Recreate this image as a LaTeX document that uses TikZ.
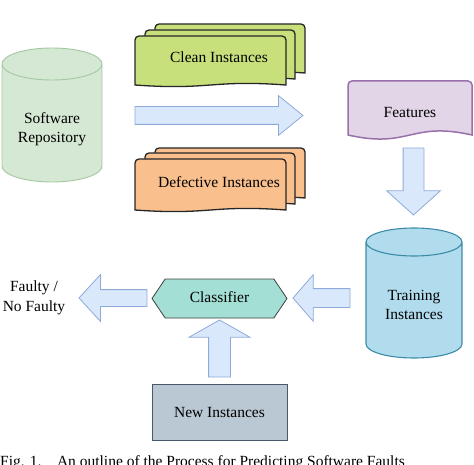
\documentclass[tikz,border=0pt]{standalone}
\usepackage{fontspec}
\setmainfont{Liberation Serif}
\usepackage{tikz}
\usetikzlibrary{positioning,shapes.geometric,shapes.arrows,shapes.symbols,calc}

\definecolor{repofill}{HTML}{D5E8D4}
\definecolor{repoline}{HTML}{A3C8A1}
\definecolor{cleanfill}{HTML}{C8E07C}
\definecolor{deffill}{HTML}{F9C08D}
\definecolor{featfill}{HTML}{E1D5E7}
\definecolor{featline}{HTML}{9A70AA}
\definecolor{trainfill}{HTML}{B1DCEE}
\definecolor{trainline}{HTML}{3B8BA7}
\definecolor{clsfill}{HTML}{A3DFD5}
\definecolor{newfill}{HTML}{BAC8D3}
\definecolor{newline}{HTML}{46586A}
\definecolor{arrfill}{HTML}{DAE8FC}
\definecolor{arrline}{HTML}{8EAAD8}

% document shape: x1 y1 x2 y2 wave
\newcommand\docpath[5]{(#1,#4) [rounded corners=4pt] -- (#1,#2) -- (#3,#2) [sharp corners] -- (#3,#4)
  .. controls ($(#1,#4)!0.5!(#3,#4)+(0,-#5)$) and ($(#1,#4)!0.5!(#3,#4)+(0,#5)$) .. cycle}
% cylinder: cx ytop ybottom rx ry
\newcommand\cylpath[5]{({#1-#4},#2) -- ({#1-#4},#3)
  arc[start angle=180, end angle=360, x radius=#4pt, y radius=#5pt] -- ({#1+#4},#2)
  arc[start angle=0, end angle=180, x radius=#4pt, y radius=#5pt] -- cycle
  (#1,#2) ellipse[x radius=#4pt, y radius=#5pt]}

\tikzset{
  label/.style = {font=\fontsize{15.5}{19.5}\selectfont, align=center, inner sep=0pt},
  doc/.style = {draw=black!85, line width=1.3pt},
  bigarrow/.style = {single arrow, draw=arrline, fill=arrfill, line width=0.8pt,
    inner sep=0pt, outer sep=0pt},
}

\begin{document}
\begin{tikzpicture}[x=1pt,y=-1pt]
  \useasboundingbox (0,0) rectangle (474,465);

  % data stores
  \draw[draw=repoline, fill=repofill, line width=0.9pt] \cylpath{52}{64}{166}{50}{16};
  \node[label] (repo) at (52,129) {Software\\Repository};

  \draw[draw=trainline, fill=trainfill, line width=1.1pt] \cylpath{414}{242}{344}{48}{14};
  \node[label] (train) at (414,305) {Training\\Instances};

  % stacked documents
  \draw[doc, fill=cleanfill] \docpath{155}{24}{305}{73}{5.5};
  \draw[doc, fill=cleanfill] \docpath{145}{30}{295}{79}{5.5};
  \draw[doc, fill=cleanfill] \docpath{135}{36}{286}{85}{5.5};
  \node[label] (clean) at (219,57) {Clean Instances};

  \draw[doc, fill=deffill] \docpath{155}{148}{305}{198}{5.5};
  \draw[doc, fill=deffill] \docpath{145}{153}{295}{204}{5.5};
  \draw[doc, fill=deffill] \docpath{135}{159}{286}{210}{5.5};
  \node[label] (defect) at (219,182) {Defective Instances};

  \draw[draw=featline, fill=featfill, line width=1.5pt] \docpath{348}{81}{472}{135}{14};
  \node[label] (feat) at (410,113) {Features};

  % classifier and new data
  \node[signal, signal to=west and east, signal pointer angle=112, draw=black!75,
    fill=clsfill, line width=0.8pt, minimum width=135pt, minimum height=39pt,
    inner sep=0pt] (cls) at (219.5,298.5) {};
  \node[label] (clstext) at (219.5,297) {Classifier};

  \node[draw=newline, fill=newfill, line width=1pt, minimum width=135pt,
    minimum height=56pt, label] (new) at (219.5,412) {New Instances};

  \node[label] (out) at (34,298) {Faulty /\\No Faulty};

  % block arrows
  \node[bigarrow, minimum height=168pt, inner sep=8.5pt, single arrow head extend=11pt,
    single arrow tip angle=78, anchor=tail] (a1) at (135,115.5) {};
  \node[bigarrow, shape border rotate=270, minimum height=67pt, inner sep=10pt,
    single arrow head extend=16.5pt, single arrow tip angle=96, anchor=tail] (a2) at (413.5,148) {};
  \node[bigarrow, shape border rotate=180, minimum height=57pt, inner sep=9pt,
    single arrow head extend=14pt, single arrow tip angle=98, anchor=tail] (a3) at (350,298) {};
  \node[bigarrow, shape border rotate=180, minimum height=68pt, inner sep=8pt,
    single arrow head extend=15pt, single arrow tip angle=95, anchor=tail] (a4) at (147,298) {};
  \node[bigarrow, shape border rotate=90, minimum height=57pt, inner sep=10.5pt,
    single arrow head extend=19.5pt, single arrow tip angle=121, anchor=tail] (a5) at (219.5,377) {};

  % caption
  \node[label, anchor=base west] (caption) at (0,466)
    {Fig. 1.\quad An outline of the Process for Predicting Software Faults};
\end{tikzpicture}
\end{document}
